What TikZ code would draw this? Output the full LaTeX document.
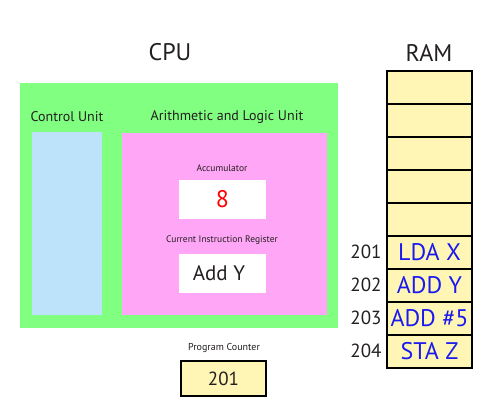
\documentclass[tikz,border=0pt]{standalone}
\usepackage{fontspec}
\setmainfont{PT Sans}
\definecolor{cpugreen}{HTML}{80FF80}
\definecolor{cublue}{HTML}{BDE3FB}
\definecolor{alupink}{HTML}{FFA6F6}
\definecolor{ramyellow}{HTML}{FFF5B5}
\definecolor{insblue}{HTML}{1A1AF0}
\definecolor{txt}{HTML}{231F20}
\begin{document}
\begin{tikzpicture}[x=1pt,y=-1pt,
  plain/.style={inner sep=0pt,outer sep=0pt,draw=none},
  cell/.style={inner sep=0pt,outer sep=0pt,fill=ramyellow,draw=black,line width=1.4pt,minimum width=85pt,minimum height=33pt},
  lbl/.style={inner sep=0pt,text=txt},
  ins/.style={inner sep=0pt,text=insblue,font=\fontsize{24}{24}\selectfont},
  addr/.style={inner sep=0pt,text=txt,font=\fontsize{19}{19}\selectfont}]
\useasboundingbox[fill=white] (0,0) rectangle (500,417);
% CPU
\node[lbl,font=\fontsize{24}{24}\selectfont] (cputitle) at (170,52) {CPU};
\node[plain,fill=cpugreen,minimum width=318pt,minimum height=245pt] (cpu) at (179,205.5) {};
\node[plain,fill=cublue,minimum width=70pt,minimum height=183pt] (cu) at (67,223.5) {};
\node[plain,fill=alupink,minimum width=205pt,minimum height=182pt] (alu) at (224.5,224) {};
\node[lbl,font=\fontsize{14}{14}\selectfont] (cutitle) at (67,117) {Control Unit};
\node[lbl,font=\fontsize{14}{14}\selectfont] (alutitle) at (227,117) {Arithmetic and Logic Unit};
\node[lbl,font=\fontsize{9.5}{9.5}\selectfont] (acclbl) at (222,168) {Accumulator};
\node[plain,fill=white,minimum width=87pt,minimum height=39pt] (acc) at (222.5,199.5) {};
\node[lbl,text=red,font=\fontsize{24}{24}\selectfont] (accval) at (222.5,199.5) {8};
\node[lbl,font=\fontsize{9.5}{9.5}\selectfont] (cirlbl) at (222,240) {Current Instruction Register};
\node[plain,fill=white,minimum width=87pt,minimum height=39pt] (cir) at (222.5,273.5) {};
\node[lbl,font=\fontsize{21}{21}\selectfont] (cirval) at (219,273.5) {Add Y};
% Program counter
\node[lbl,font=\fontsize{10}{10}\selectfont] (pclbl) at (224,348) {Program Counter};
\node[cell,minimum height=35pt] (pc) at (223.5,378.5) {};
\node[addr] (pcval) at (223.5,378.5) {201};
% RAM
\node[lbl,font=\fontsize{24}{24}\selectfont] (ramtitle) at (429,53) {RAM};
\foreach \i in {0,...,8}{
  \node[cell] (r\i) at (429.5,{87.5+33*\i}) {};
}
\node[ins] (i5) at (429.5,252.5) {LDA X};
\node[ins] (i6) at (429.5,285.5) {ADD Y};
\node[ins] (i7) at (429.5,318.5) {ADD \#5};
\node[ins] (i8) at (429.5,351.5) {STA Z};
\node[addr] (a5) at (366,252) {201};
\node[addr] (a6) at (366,285) {202};
\node[addr] (a7) at (366,318) {203};
\node[addr] (a8) at (366,351) {204};
\end{tikzpicture}
\end{document}
